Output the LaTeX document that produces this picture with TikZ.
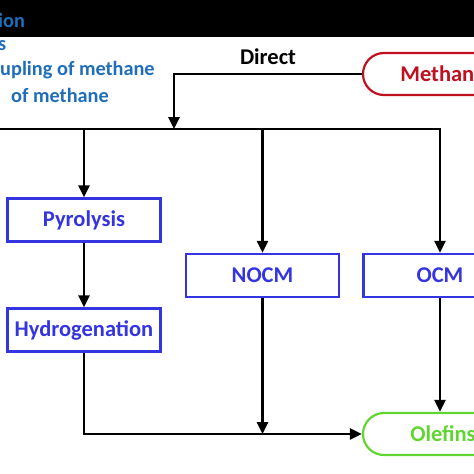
\documentclass[tikz,border=0pt]{standalone}
\usepackage{fontspec}
\setmainfont{Carlito}
\usetikzlibrary{arrows.meta,positioning}
\definecolor{boxblue}{RGB}{52,52,225}
\definecolor{headblue}{RGB}{31,110,186}
\definecolor{feedred}{RGB}{192,16,32}
\definecolor{prodgreen}{RGB}{96,214,48}
\tikzset{process/.style={draw=boxblue,line width=2.2pt,text=boxblue,fill=white,
                          minimum width=153pt,minimum height=43pt,inner sep=0pt,
                          font=\fontsize{22.5}{26}\selectfont\bfseries},
        terminal/.style={rectangle,rounded corners=21pt,line width=2.2pt,fill=white,
                          minimum width=160pt,minimum height=42pt,inner sep=0pt,
                          font=\fontsize{22.5}{26}\selectfont\bfseries},
        headline/.style={anchor=west,inner sep=0pt,text=headblue,
                          font=\fontsize{20.3}{24}\selectfont\bfseries},
        flow/.style={draw=black,line width=2.5pt,-{Triangle[length=12pt,width=11pt]}},
        }
\begin{document}
\begin{tikzpicture}[x=1pt,y=-1pt]
    \useasboundingbox (0,0) rectangle (474,474);
    \clip (0,0) rectangle (474,474);
    \fill[black] (0,0) rectangle (474,37);

    \node[headline] (title) at (-2,20) {ion};
    \node[headline] (route1) at (-2,46) {s};
    \node[headline] (route2) at (0,70) {upling of methane};
    \node[headline] (route3) at (11,95) {of methane};

    \node[terminal,draw=feedred,text=feedred] (methane) at (443,74) {Methane};
    \node[terminal,draw=prodgreen,text=prodgreen] (olefins) at (443,434) {Olefins};

    \node[process] (pyro) at (84,220) {Pyrolysis};
    \node[process] (hydro) at (84,330) {Hydrogenation};
    \node[process] (nocm) at (262.5,275.5) {NOCM};
    \node[process] (ocm) at (440,275.5) {OCM};

    \node[inner sep=0pt,font=\fontsize{22.5}{26}\selectfont\bfseries] (direct) at (268,57) {Direct};

    \coordinate (split) at (174,129);
    \coordinate (busstart) at (-5,129);

    \draw[flow] (methane.west) -| (split);
    \draw[flow] (busstart) -| (ocm.north);
    \draw[flow] (pyro.north |- busstart) -- (pyro.north);
    \draw[flow] (nocm.north |- busstart) -- (nocm.north);
    \draw[flow] (pyro) -- (hydro);
    \draw[flow] (hydro.south) |- (olefins.west);
    \draw[flow] (nocm.south) -- (nocm.south |- olefins.west);
    \draw[flow] (ocm.south) -- (ocm.south |- olefins.north);
\end{tikzpicture}
\end{document}
